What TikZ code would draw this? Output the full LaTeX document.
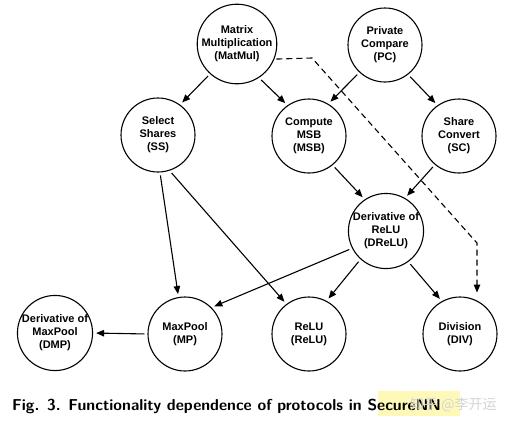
\documentclass[tikz,border=0pt]{standalone}
\usepackage{fontspec}
\setmainfont{Liberation Sans}
\newfontfamily\cjkfont{Noto Sans CJK SC}
\newfontfamily\lmsansbx{lmsans10-bold}[Extension=.otf]
\usetikzlibrary{arrows.meta}
\definecolor{hilite}{RGB}{255,249,185}
\definecolor{wmark}{RGB}{212,212,212}
\tikzset{
  proto/.style={circle,draw,line width=1.1pt,minimum size=74pt,inner sep=0pt,align=center,
    font=\fontsize{11}{13}\selectfont\bfseries},
  dep/.style={line width=1.1pt,-{Triangle[length=8pt,width=6.5pt]},shorten <=3pt,shorten >=3pt},
  optdep/.style={dep,dashed,dash pattern=on 6pt off 4pt,shorten <=2pt,shorten >=8pt},
}
\begin{document}
\begin{tikzpicture}[x=1pt,y=-1pt]
\useasboundingbox (0,0) rectangle (519,424);
\node[proto] (MatMul) at (237,44) {Matrix\\Multiplication\\(MatMul)};
\node[proto] (PC) at (385,45) {Private\\Compare\\(PC)};
\node[proto] (SS) at (158,135) {Select\\Shares\\(SS)};
\node[proto] (MSB) at (309,136) {Compute\\MSB\\(MSB)};
\node[proto] (SC) at (459,136) {Share\\Convert\\(SC)};
\node[proto] (DReLU) at (386,231) {Derivative of\\ReLU\\(DReLU)};
\node[proto] (DMP) at (55,333) {Derivative of\\MaxPool\\(DMP)};
\node[proto] (MP) at (185,334) {MaxPool\\(MP)};
\node[proto] (ReLU) at (309,334) {ReLU\\(ReLU)};
\node[proto] (DIV) at (460,334) {Division\\(DIV)};

\draw[dep] (MatMul.228) -- (SS.54);
\draw[dep] (MatMul.303) -- (MSB.125);
\draw[dep] (PC.227) -- (MSB.59);
\draw[dep] (PC.308) -- (SC.125);
\draw[dep] (MSB.309) -- (DReLU.124);
\draw[dep] (SC.230) -- (DReLU.60);
\draw[dep] (SS.273) -- (MP.100);
\draw[dep] (SS.288) -- (ReLU.127);
\draw[dep] (DReLU.207) -- (MP.45);
\draw[dep] (DReLU.228) -- (ReLU.62);
\draw[dep] (DReLU.306) -- (DIV.119);
\draw[dep] (MP.180) -- (DMP.0);

\coordinate (bendA) at (312,58);
\coordinate (bendB) at (477,243);
\draw[optdep] (MatMul.338) -- (bendA) -- (bendB) -- (bendB |- DIV.63);

\node[fill=hilite,minimum width=82pt,minimum height=25pt,inner sep=0pt] (hl) at (419,403) {};
\node[anchor=base west,inner sep=0pt,font=\lmsansbx\fontsize{15.8}{18}\selectfont] (cap) at (12,410)
  {Fig. 3. Functionality dependence of protocols in SecureNN};
\node[anchor=base west,inner sep=0pt,text=wmark,font=\cjkfont\fontsize{14}{16}\selectfont] (wm) at (410,409)
  {知乎 @李开运};
\end{tikzpicture}
\end{document}
